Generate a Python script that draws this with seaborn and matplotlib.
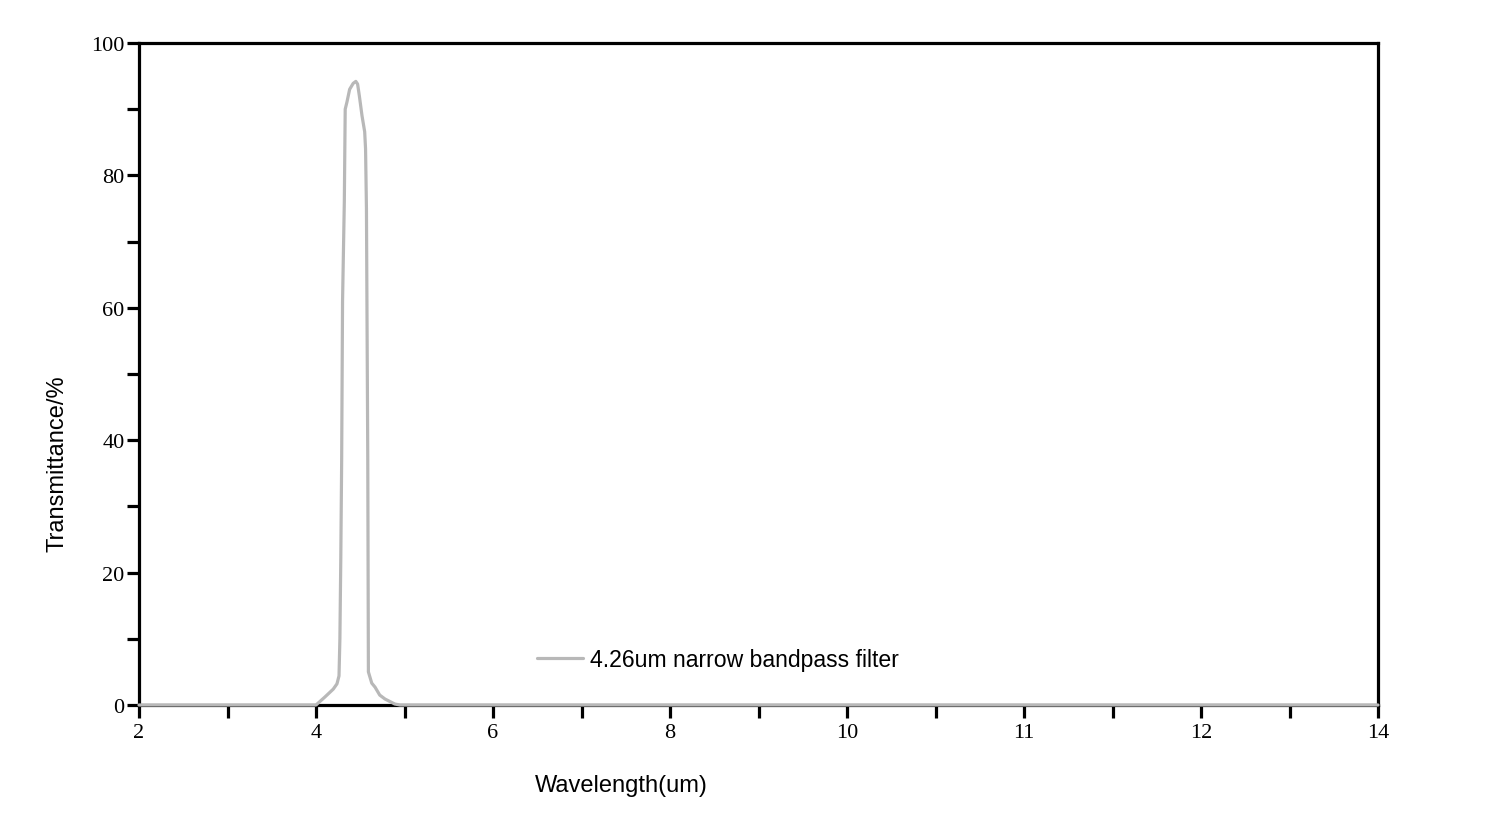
import numpy as np
import pandas as pd
import matplotlib
matplotlib.use("Agg")
import matplotlib.pyplot as plt
import seaborn as sns

# Transmission curve, x in axis positions (ticks are evenly spaced, labels below)
wavelength_pos = [2.0, 4.0, 4.10, 4.195, 4.237, 4.26, 4.27, 4.28, 4.29, 4.30, 4.32, 4.33,
                  4.35, 4.38, 4.42, 4.45, 4.47, 4.49, 4.52, 4.55, 4.56, 4.57, 4.585,
                  4.592, 4.63, 4.667, 4.72, 4.78, 4.89, 4.95, 16.0]
transmittance = [0, 0, 1.2, 2.4, 3.2, 4.4, 10, 22, 37, 61, 76, 90,
                 91.1, 93, 93.9, 94.2, 93.8, 92, 89, 86.6, 84, 75, 37,
                 5.0, 3.3, 2.7, 1.5, 0.9, 0.15, 0, 0]
series_name = "4.26um narrow bandpass filter"

x_tick_pos = [2, 4, 6, 8, 10, 12, 14, 16]
x_tick_labels = ["2", "4", "6", "8", "10", "11", "12", "14"]
y_ticks = [0, 20, 40, 60, 80, 100]

df = pd.DataFrame({"pos": wavelength_pos, "T": transmittance})

sns.set_style("white")
plt.rcParams["text.color"] = "black"
plt.rcParams["xtick.color"] = "black"
plt.rcParams["ytick.color"] = "black"
plt.rcParams["axes.labelcolor"] = "black"

fig = plt.figure(figsize=(14.89, 8.37), dpi=100)
ax = fig.add_axes([139 / 1489, 1 - 706 / 837, 1239 / 1489, 662 / 837])

sns.lineplot(data=df, x="pos", y="T", ax=ax, color="#b8b8b8", linewidth=2.3,
             estimator=None, sort=False, label=series_name, zorder=3, clip_on=False)

ax.set_xlim(2, 16)
ax.set_ylim(0, 100)

ax.set_xticks(x_tick_pos)
ax.set_xticklabels(x_tick_labels)
ax.set_xticks([3, 5, 7, 9, 11, 13, 15], minor=True)
ax.set_yticks(y_ticks)
ax.set_yticklabels([str(v) for v in y_ticks])
ax.set_yticks([10, 30, 50, 70, 90], minor=True)

for s in ax.spines.values():
    s.set_color("black")
    s.set_linewidth(2.3)

ax.tick_params(which="both", direction="out", length=9, width=2.3, color="black",
               bottom=True, left=True, top=False, right=False)
ax.tick_params(axis="x", which="major", pad=4)
ax.tick_params(axis="y", which="major", pad=1.5)
for lab in ax.get_xticklabels() + ax.get_yticklabels():
    lab.set_family("Liberation Serif")
    lab.set_fontsize(16)
    lab.set_color("black")

ax.set_xlabel("Wavelength(um)", fontsize=17, family="Liberation Sans", color="black")
ax.set_ylabel("Transmittance/%", fontsize=17, family="Liberation Sans", color="black")
ax.xaxis.set_label_coords(0.389, -0.104)
ax.yaxis.set_label_coords(-0.057, 0.366)

leg = ax.legend(loc="center left", bbox_to_anchor=(0.321, 0.068), frameon=False,
                borderpad=0, borderaxespad=0, handlelength=2.0, handletextpad=0.3,
                prop={"family": "Liberation Sans", "size": 16.6})
for t in leg.get_texts():
    t.set_color("black")

fig.savefig("out.png", dpi=100)
